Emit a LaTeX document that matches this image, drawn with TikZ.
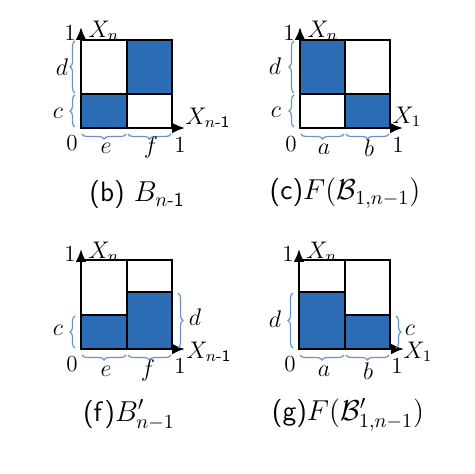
\documentclass[tikz,border=0pt]{standalone}
\usepackage{amsmath}
\usepackage{amssymb}
\usepackage{tikz}
\usetikzlibrary{arrows.meta,decorations.pathreplacing}
\definecolor{cellblue}{HTML}{2B6CB5}
\definecolor{braceblue}{HTML}{6A92C4}
\tikzset{
  cell/.style={draw=black,line width=1.2pt},
  axis/.style={line width=1.3pt,-{Latex[length=6.5pt,width=5.5pt]}},
  bracket/.style={draw=braceblue,line width=0.6pt,decorate,decoration={brace,amplitude=2.5pt}},
  lbl/.style={font=\fontsize{11.5}{13}\selectfont,inner sep=0pt},
  caption/.style={font=\fontsize{14}{16}\selectfont,inner sep=0pt}
}
\begin{document}
\begin{tikzpicture}[x=0.5pt,y=0.5pt]
\useasboundingbox (0,0) rectangle (474,474);
% (b) B_{n-1}
\begin{scope}[shift={(81,346)}]
  \fill[cellblue] (0,0) rectangle (46,34);
  \fill[cellblue] (46,34) rectangle (91,88);
  \draw[cell] (0,0) rectangle (91,88);
  \draw[cell] (46,0) -- (46,88);
  \draw[cell] (0,34) -- (91,34);
  \coordinate (bO) at (0,0);
  \coordinate (bY) at (0,101);
  \coordinate (bX) at (104,0);
  \draw[axis] (bO) -- (bY);
  \draw[axis] (bO) -- (bX);
  \node[lbl] (bone) at (-11,95) {1};
  \node[lbl,anchor=west] (bxn) at (7,97) {$X_n$};
  \node[lbl,anchor=west] (bxm) at (104,10) {$X_{n\textsf{-1}}$};
  \node[lbl] (bzero) at (-9,-15) {0};
  \node[lbl] (bonex) at (99,-17) {1};
  \draw[bracket] (-6,1) -- (-6,33);
  \draw[bracket] (-6,35) -- (-6,87);
  \draw[bracket] (45,-6) -- (1,-6);
  \draw[bracket] (90,-6) -- (47,-6);
  \node[lbl] (bc) at (-23,15) {$c$};
  \node[lbl] (bd) at (-19,61) {$d$};
  \node[lbl] (be) at (25,-20) {$e$};
  \node[lbl] (bf) at (70,-20) {$f$};
\end{scope}
% (c) F(B_{1,n-1})
\begin{scope}[shift={(300,346)}]
  \fill[cellblue] (0,34) rectangle (45,88);
  \fill[cellblue] (45,0) rectangle (90,34);
  \draw[cell] (0,0) rectangle (90,88);
  \draw[cell] (45,0) -- (45,88);
  \draw[cell] (0,34) -- (90,34);
  \coordinate (cO) at (0,0);
  \coordinate (cY) at (0,101);
  \coordinate (cX) at (103,0);
  \draw[axis] (cO) -- (cY);
  \draw[axis] (cO) -- (cX);
  \node[lbl] (cone) at (-11,95) {1};
  \node[lbl,anchor=west] (cxn) at (7,97) {$X_n$};
  \node[lbl,anchor=west] (cxm) at (92,11) {$X_1$};
  \node[lbl] (czero) at (-9,-16) {0};
  \node[lbl] (conex) at (98,-17) {1};
  \draw[bracket] (-6,1) -- (-6,33);
  \draw[bracket] (-6,35) -- (-6,87);
  \draw[bracket] (44,-6) -- (1,-6);
  \draw[bracket] (89,-6) -- (46,-6);
  \node[lbl] (cc) at (-24,16) {$c$};
  \node[lbl] (cd) at (-25,62) {$d$};
  \node[lbl] (ca) at (24,-21) {$a$};
  \node[lbl] (cb) at (69,-20) {$b$};
\end{scope}
% (f) B'_{n-1}
\begin{scope}[shift={(81,125)}]
  \fill[cellblue] (0,0) rectangle (46,34);
  \fill[cellblue] (46,0) rectangle (91,57);
  \draw[cell] (0,0) rectangle (91,89);
  \draw[cell] (46,0) -- (46,89);
  \draw[cell] (0,34) -- (46,34);
  \draw[cell] (46,57) -- (91,57);
  \coordinate (fO) at (0,0);
  \coordinate (fY) at (0,100);
  \coordinate (fX) at (104,0);
  \draw[axis] (fO) -- (fY);
  \draw[axis] (fO) -- (fX);
  \node[lbl] (fone) at (-11,95) {1};
  \node[lbl,anchor=west] (fxn) at (7,97) {$X_n$};
  \node[lbl,anchor=west] (fxm) at (105,-3) {$X_{n\textsf{-1}}$};
  \node[lbl] (fzero) at (-9,-15) {0};
  \node[lbl] (fonex) at (99,-17) {1};
  \draw[bracket] (-6,1) -- (-6,33);
  \draw[bracket] (97,56) -- (97,1);
  \draw[bracket] (45,-6) -- (1,-6);
  \draw[bracket] (90,-6) -- (47,-6);
  \node[lbl] (fc) at (-23,19) {$c$};
  \node[lbl] (fd) at (114,32) {$d$};
  \node[lbl] (fe) at (25,-22) {$e$};
  \node[lbl] (ff) at (67,-22) {$f$};
\end{scope}
% (g) F(B'_{1,n-1})
\begin{scope}[shift={(299,125)}]
  \fill[cellblue] (0,0) rectangle (46,57);
  \fill[cellblue] (46,0) rectangle (91,34);
  \draw[cell] (0,0) rectangle (91,89);
  \draw[cell] (46,0) -- (46,89);
  \draw[cell] (0,57) -- (46,57);
  \draw[cell] (46,34) -- (91,34);
  \coordinate (gO) at (0,0);
  \coordinate (gY) at (0,100);
  \coordinate (gX) at (105,0);
  \draw[axis] (gO) -- (gY);
  \draw[axis] (gO) -- (gX);
  \node[lbl] (gone) at (-11,95) {1};
  \node[lbl,anchor=west] (gxn) at (7,97) {$X_n$};
  \node[lbl,anchor=west] (gxm) at (104,-3) {$X_1$};
  \node[lbl] (gzero) at (-9,-15) {0};
  \node[lbl] (gonex) at (98,-17) {1};
  \draw[bracket] (-6,1) -- (-6,56);
  \draw[bracket] (97,33) -- (97,1);
  \draw[bracket] (45,-6) -- (1,-6);
  \draw[bracket] (90,-6) -- (47,-6);
  \node[lbl] (gd) at (-24,30) {$d$};
  \node[lbl] (gc) at (111,19) {$c$};
  \node[lbl] (ga) at (25,-22) {$a$};
  \node[lbl] (gb) at (69,-22) {$b$};
\end{scope}
% captions
\node[caption] (capb) at (137,279) {\textsf{(b)} $B_{n\textsf{-1}}$};
\node[caption] (capc) at (345,281) {\textsf{(c)}$F(\mathcal{B}_{1,n-1})$};
\node[caption] (capf) at (129,59) {\textsf{(f)}$B'_{n-1}$};
\node[caption] (capg) at (348,59) {\textsf{(g)}$F(\mathcal{B}'_{1,n-1})$};
\end{tikzpicture}
\end{document}
